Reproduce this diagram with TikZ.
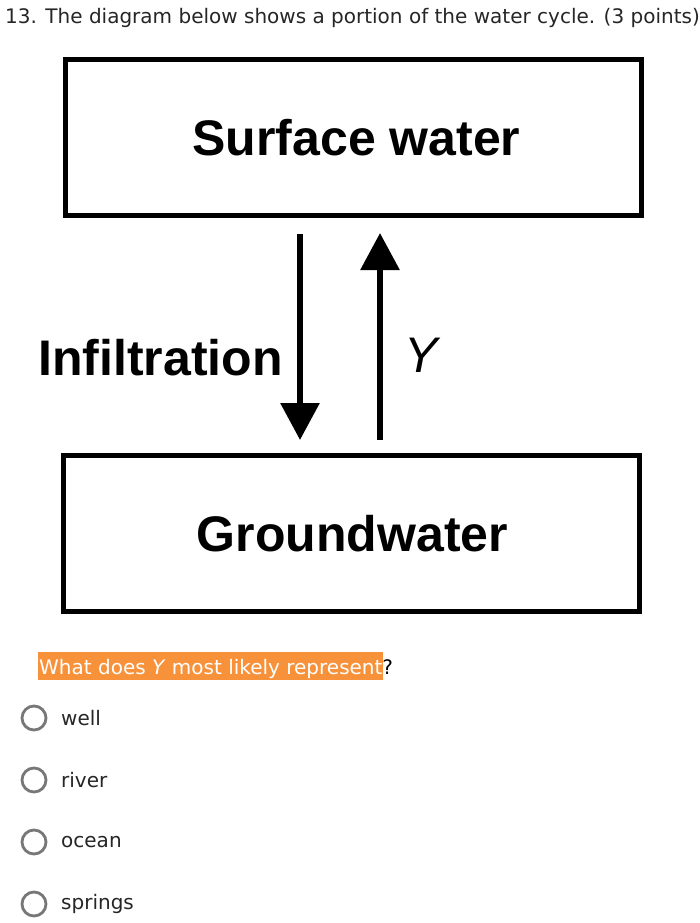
\documentclass[tikz,border=0pt]{standalone}
\usepackage{fontspec}
\setmainfont{DejaVu Sans}
\newfontfamily\arialfont{Liberation Sans}
\usetikzlibrary{arrows.meta}
\definecolor{hl}{HTML}{F7923A}
\definecolor{radiogray}{HTML}{777777}
\tikzset{
  box/.style={draw, line width=5pt, minimum width=576pt, minimum height=156pt, inner sep=0pt,
    font=\arialfont\bfseries\fontsize{50}{50}\selectfont},
  flow/.style={line width=6pt, -{Triangle[width=38pt,length=37pt]}},
  radio/.style={draw=radiogray, line width=2.8pt, circle, minimum size=24pt, inner sep=0pt},
  opt/.style={anchor=west, inner sep=0pt, font=\fontsize{20}{20}\selectfont, text=black!85},
}
\begin{document}
\begin{tikzpicture}[x=1pt,y=-1pt]
\useasboundingbox (0,0) rectangle (699,923);
\fill[white] (0,0) rectangle (699,923);
\node[anchor=west, inner sep=0pt, font=\fontsize{20}{20}\selectfont, text=black!85] (title) at (5,18)
  {13. The diagram below shows a portion of the water cycle. (3 points)};
\node[box] (sw) at (353.5,137.5) {\hspace*{6pt}Surface water};
\node[box] (gw) at (351.5,533.5) {\raisebox{-9pt}{\hspace*{2pt}Groundwater}};
\coordinate (xa) at (300,0);
\coordinate (xb) at (380,0);
\draw[flow, shorten <=16pt, shorten >=13pt] (sw.south -| xa) -- (gw.north -| xa);
\draw[flow, shorten <=13pt, shorten >=15pt] (gw.north -| xb) -- (sw.south -| xb);
\node[anchor=west, inner sep=0pt, font=\arialfont\bfseries\fontsize{50}{50}\selectfont] (inf) at (38,358) {Infiltration};
\node[inner sep=0pt, font=\arialfont\itshape\fontsize{50}{50}\selectfont] (y) at (421,355) {Y};
\fill[hl] (38,652) rectangle (383,680);
\node[anchor=base west, inner sep=0pt, font=\fontsize{20}{20}\selectfont, text=white] (q) at (39,674)
  {What does \textit{Y} most likely represent\textcolor{black}{?}};
\foreach \t [count=\i from 0] in {well,river,ocean,springs}{
  \node[radio] (r\i) at (34,718+62*\i) {};
  \node[opt] (o\i) at (61,718+62*\i) {\t};
}
\end{tikzpicture}
\end{document}
